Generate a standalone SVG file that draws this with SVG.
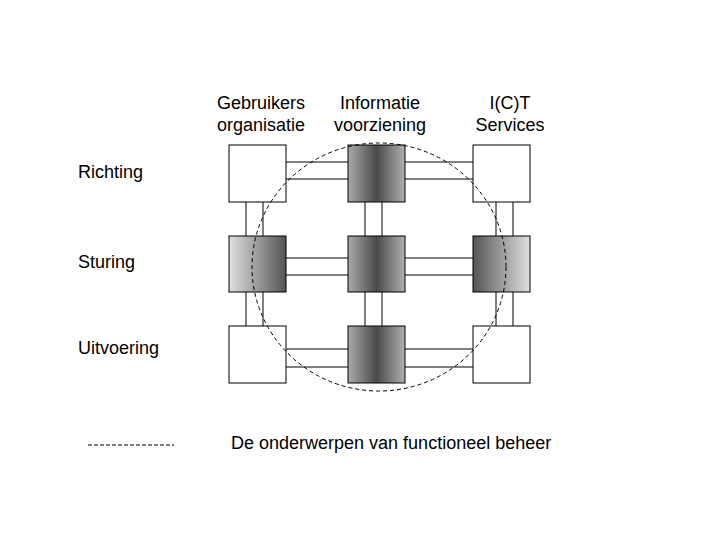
<svg xmlns="http://www.w3.org/2000/svg" width="720" height="540" viewBox="0 0 720 540">
<defs>
<linearGradient id="mid" x1="0" x2="1" y1="0" y2="0"><stop offset="0" stop-color="#aaa"/><stop offset="0.5" stop-color="#4a4a4a"/><stop offset="1" stop-color="#b0b0b0"/></linearGradient>
<linearGradient id="lr" x1="0" x2="1"><stop offset="0" stop-color="#e0e0e0"/><stop offset="1" stop-color="#555"/></linearGradient>
<linearGradient id="rl" x1="0" x2="1"><stop offset="0" stop-color="#555"/><stop offset="1" stop-color="#e0e0e0"/></linearGradient>
</defs>
<style>
rect{stroke:#000;stroke-width:1}
line{stroke:#000;stroke-width:1}
text{font-family:"Liberation Sans",Arial,sans-serif;font-size:18px;fill:#000}
.c{text-anchor:middle}
</style>
<rect width="720" height="540" fill="#fff" style="stroke:none"/>
<g id="connectors">
<line x1="286" y1="162" x2="473" y2="162"/><line x1="286" y1="179" x2="473" y2="179"/>
<line x1="286" y1="258" x2="473" y2="258"/><line x1="286" y1="275" x2="473" y2="275"/>
<line x1="286" y1="349" x2="473" y2="349"/><line x1="286" y1="367" x2="473" y2="367"/>
<line x1="246" y1="202" x2="246" y2="326"/><line x1="263" y1="202" x2="263" y2="326"/>
<line x1="365" y1="202" x2="365" y2="326"/><line x1="382" y1="202" x2="382" y2="326"/>
<line x1="496" y1="202" x2="496" y2="326"/><line x1="513" y1="202" x2="513" y2="326"/>
</g>
<g id="n11"><rect x="229" y="145" width="57" height="57" fill="#fff"/></g>
<g id="n12"><rect x="348" y="145" width="57" height="57" fill="url(#mid)"/></g>
<g id="n13"><rect x="473" y="145" width="57" height="57" fill="#fff"/></g>
<g id="n21"><rect x="229" y="236" width="57" height="56" fill="url(#lr)"/></g>
<g id="n22"><rect x="348" y="236" width="57" height="56" fill="url(#mid)"/></g>
<g id="n23"><rect x="473" y="236" width="57" height="56" fill="url(#rl)"/></g>
<g id="n31"><rect x="229" y="326" width="57" height="57" fill="#fff"/></g>
<g id="n32"><rect x="348" y="326" width="57" height="57" fill="url(#mid)"/></g>
<g id="n33"><rect x="473" y="326" width="57" height="57" fill="#fff"/></g>
<ellipse cx="379" cy="267" rx="127" ry="124" fill="none" stroke="#000" stroke-dasharray="4,3"/>
<g id="labels">
<text x="261" y="109" class="c">Gebruikers</text><text x="261" y="131" class="c">organisatie</text>
<text x="380" y="109" class="c">Informatie</text><text x="380" y="131" class="c">voorziening</text>
<text x="510" y="109" class="c">I(C)T</text><text x="510" y="131" class="c">Services</text>
<text x="78" y="178">Richting</text>
<text x="78" y="268">Sturing</text>
<text x="78" y="354">Uitvoering</text>
<line x1="88" y1="445" x2="174" y2="445" stroke-dasharray="4,2"/>
<text x="231" y="449">De onderwerpen van functioneel beheer</text>
</g>
</svg>
